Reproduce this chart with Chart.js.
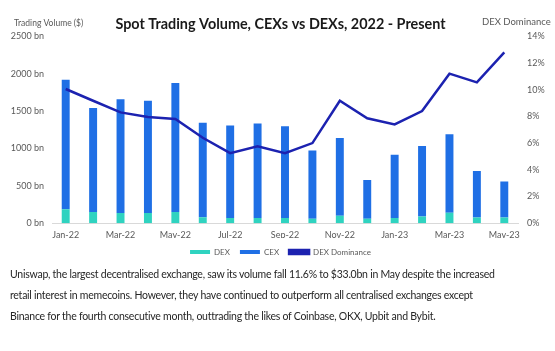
<!DOCTYPE html>
<html>
<head>
<meta charset="utf-8">
<script src="https://cdn.jsdelivr.net/npm/chart.js@4"></script>
<style>
  body { margin: 0; background: #fff; }
  #wrap { position: relative; width: 555px; height: 268px; }
  #note {
    font-family: Lato, "Open Sans", sans-serif;
    font-size: 10.5px; letter-spacing: -0.25px; line-height: 21px; color: #262626; white-space: nowrap;
    margin: 0; padding: 0 0 0 10px; position: absolute; top: 264px; left: 0;
  }
</style>
</head>
<body>
<div id="wrap"><canvas id="grafico"></canvas></div>
<p id="note">Uniswap, the largest decentralised exchange, saw its volume fall 11.6% to $33.0bn in May despite the increased<br>retail interest in memecoins. However, they have continued to outperform all centralised exchanges except<br>Binance for the fourth consecutive month, outtrading the likes of Coinbase, OKX, Upbit and Bybit.</p>
<script>
const meses = ['Jan-22', 'Feb-22', 'Mar-22', 'Apr-22', 'May-22', 'Jun-22', 'Jul-22', 'Aug-22', 'Sep-22',
    'Oct-22', 'Nov-22', 'Dec-22', 'Jan-23', 'Feb-23', 'Mar-23', 'Apr-23', 'May-23'];
const dexVol = [185, 149, 135, 135, 149, 81, 68, 70, 68, 58, 99, 58, 68, 90, 139, 77, 77];
const cexVol = [1734, 1391, 1523, 1504, 1725, 1261, 1239, 1264, 1229, 915, 1040, 519, 847, 941, 1050, 622, 481];
const dexDominance = [10.05, 9.17, 8.3, 7.95, 7.8, 6.4, 5.25, 5.76, 5.25, 6.0, 9.17, 7.86, 7.4, 8.4, 11.2, 10.55, 12.8];

const fuente = 'Lato, "Open Sans", sans-serif';
const gris = '#595959';

// titulos de los ejes, arriba de cada eje
const titulosEjes = {
    id: 'titulosEjes',
    afterDraw(chart) {
        const ctx = chart.ctx;
        ctx.save();
        ctx.fillStyle = gris;
        ctx.textBaseline = 'middle';
        ctx.textAlign = 'left';
        ctx.font = '8.5px ' + fuente;
        ctx.fillText('Trading Volume ($)', 14, 23);
        ctx.font = '9.5px ' + fuente;
        ctx.fillText('DEX Dominance', 482, 22);
        ctx.restore();
    }
};

const ctx = document.getElementById('grafico').getContext('2d');
new Chart(ctx, {
    data: {
        labels: meses,
        datasets: [{
            type: 'line',
            label: 'DEX Dominance',
            data: dexDominance,
            yAxisID: 'y1',
            borderColor: '#1c22b0',
            backgroundColor: '#1c22b0',
            borderWidth: 2.5,
            tension: 0,
            pointRadius: 0,
            order: 0
        }, {
            type: 'bar',
            label: 'DEX',
            data: dexVol,
            backgroundColor: '#2fd3c0',
            yAxisID: 'y',
            stack: 'vol',
            barPercentage: 0.29,
            categoryPercentage: 1,
            order: 1
        }, {
            type: 'bar',
            label: 'CEX',
            data: cexVol,
            backgroundColor: '#1f6fe5',
            yAxisID: 'y',
            stack: 'vol',
            barPercentage: 0.29,
            categoryPercentage: 1,
            order: 1
        }]
    },
    options: {
        responsive: true,
        maintainAspectRatio: false,
        animation: false,
        layout: { padding: { left: 6, right: 0, top: 0, bottom: 2 } },
        scales: {
            x: {
                stacked: true,
                grid: { display: false, tickLength: 0 },
                border: { display: true, color: '#d9d9d9' },
                afterFit: s => { s.height -= 8; },
                ticks: {
                    autoSkip: false,
                    maxRotation: 0,
                    padding: 6,
                    color: gris,
                    font: { family: fuente, size: 9 },
                    callback: function (v, i) { return i % 2 === 0 ? meses[i] : ''; }
                }
            },
            y: {
                stacked: true,
                min: 0, max: 2500,
                grid: { display: false, tickLength: 0 },
                border: { display: false },
                afterFit: s => { s.width = 46; },
                ticks: {
                    stepSize: 500,
                    padding: 8,
                    color: gris,
                    font: { family: fuente, size: 9 },
                    callback: v => v + ' bn'
                }
            },
            y1: {
                position: 'right',
                min: 0, max: 14,
                grid: { display: false, tickLength: 0 },
                border: { display: false },
                afterFit: s => { s.width = 37; },
                ticks: {
                    stepSize: 2,
                    padding: 9,
                    color: gris,
                    font: { family: fuente, size: 9 },
                    callback: v => v + '%'
                }
            }
        },
        plugins: {
            title: {
                display: true,
                text: 'Spot Trading Volume, CEXs vs DEXs, 2022 - Present',
                color: '#1a1a1a',
                font: { family: fuente, size: 14.4, weight: 'bold' },
                padding: { top: 16, bottom: 3 }
            },
            legend: {
                position: 'bottom',
                labels: {
                    boxWidth: 20,
                    boxHeight: 4,
                    padding: 10,
                    color: gris,
                    font: { family: fuente, size: 8 },
                    sort: (a, b) => {
                        const orden = ['DEX', 'CEX', 'DEX Dominance'];
                        return orden.indexOf(a.text) - orden.indexOf(b.text);
                    }
                }
            },
            tooltip: { enabled: false }
        }
    },
    plugins: [titulosEjes]
});
</script>
</body>
</html>
